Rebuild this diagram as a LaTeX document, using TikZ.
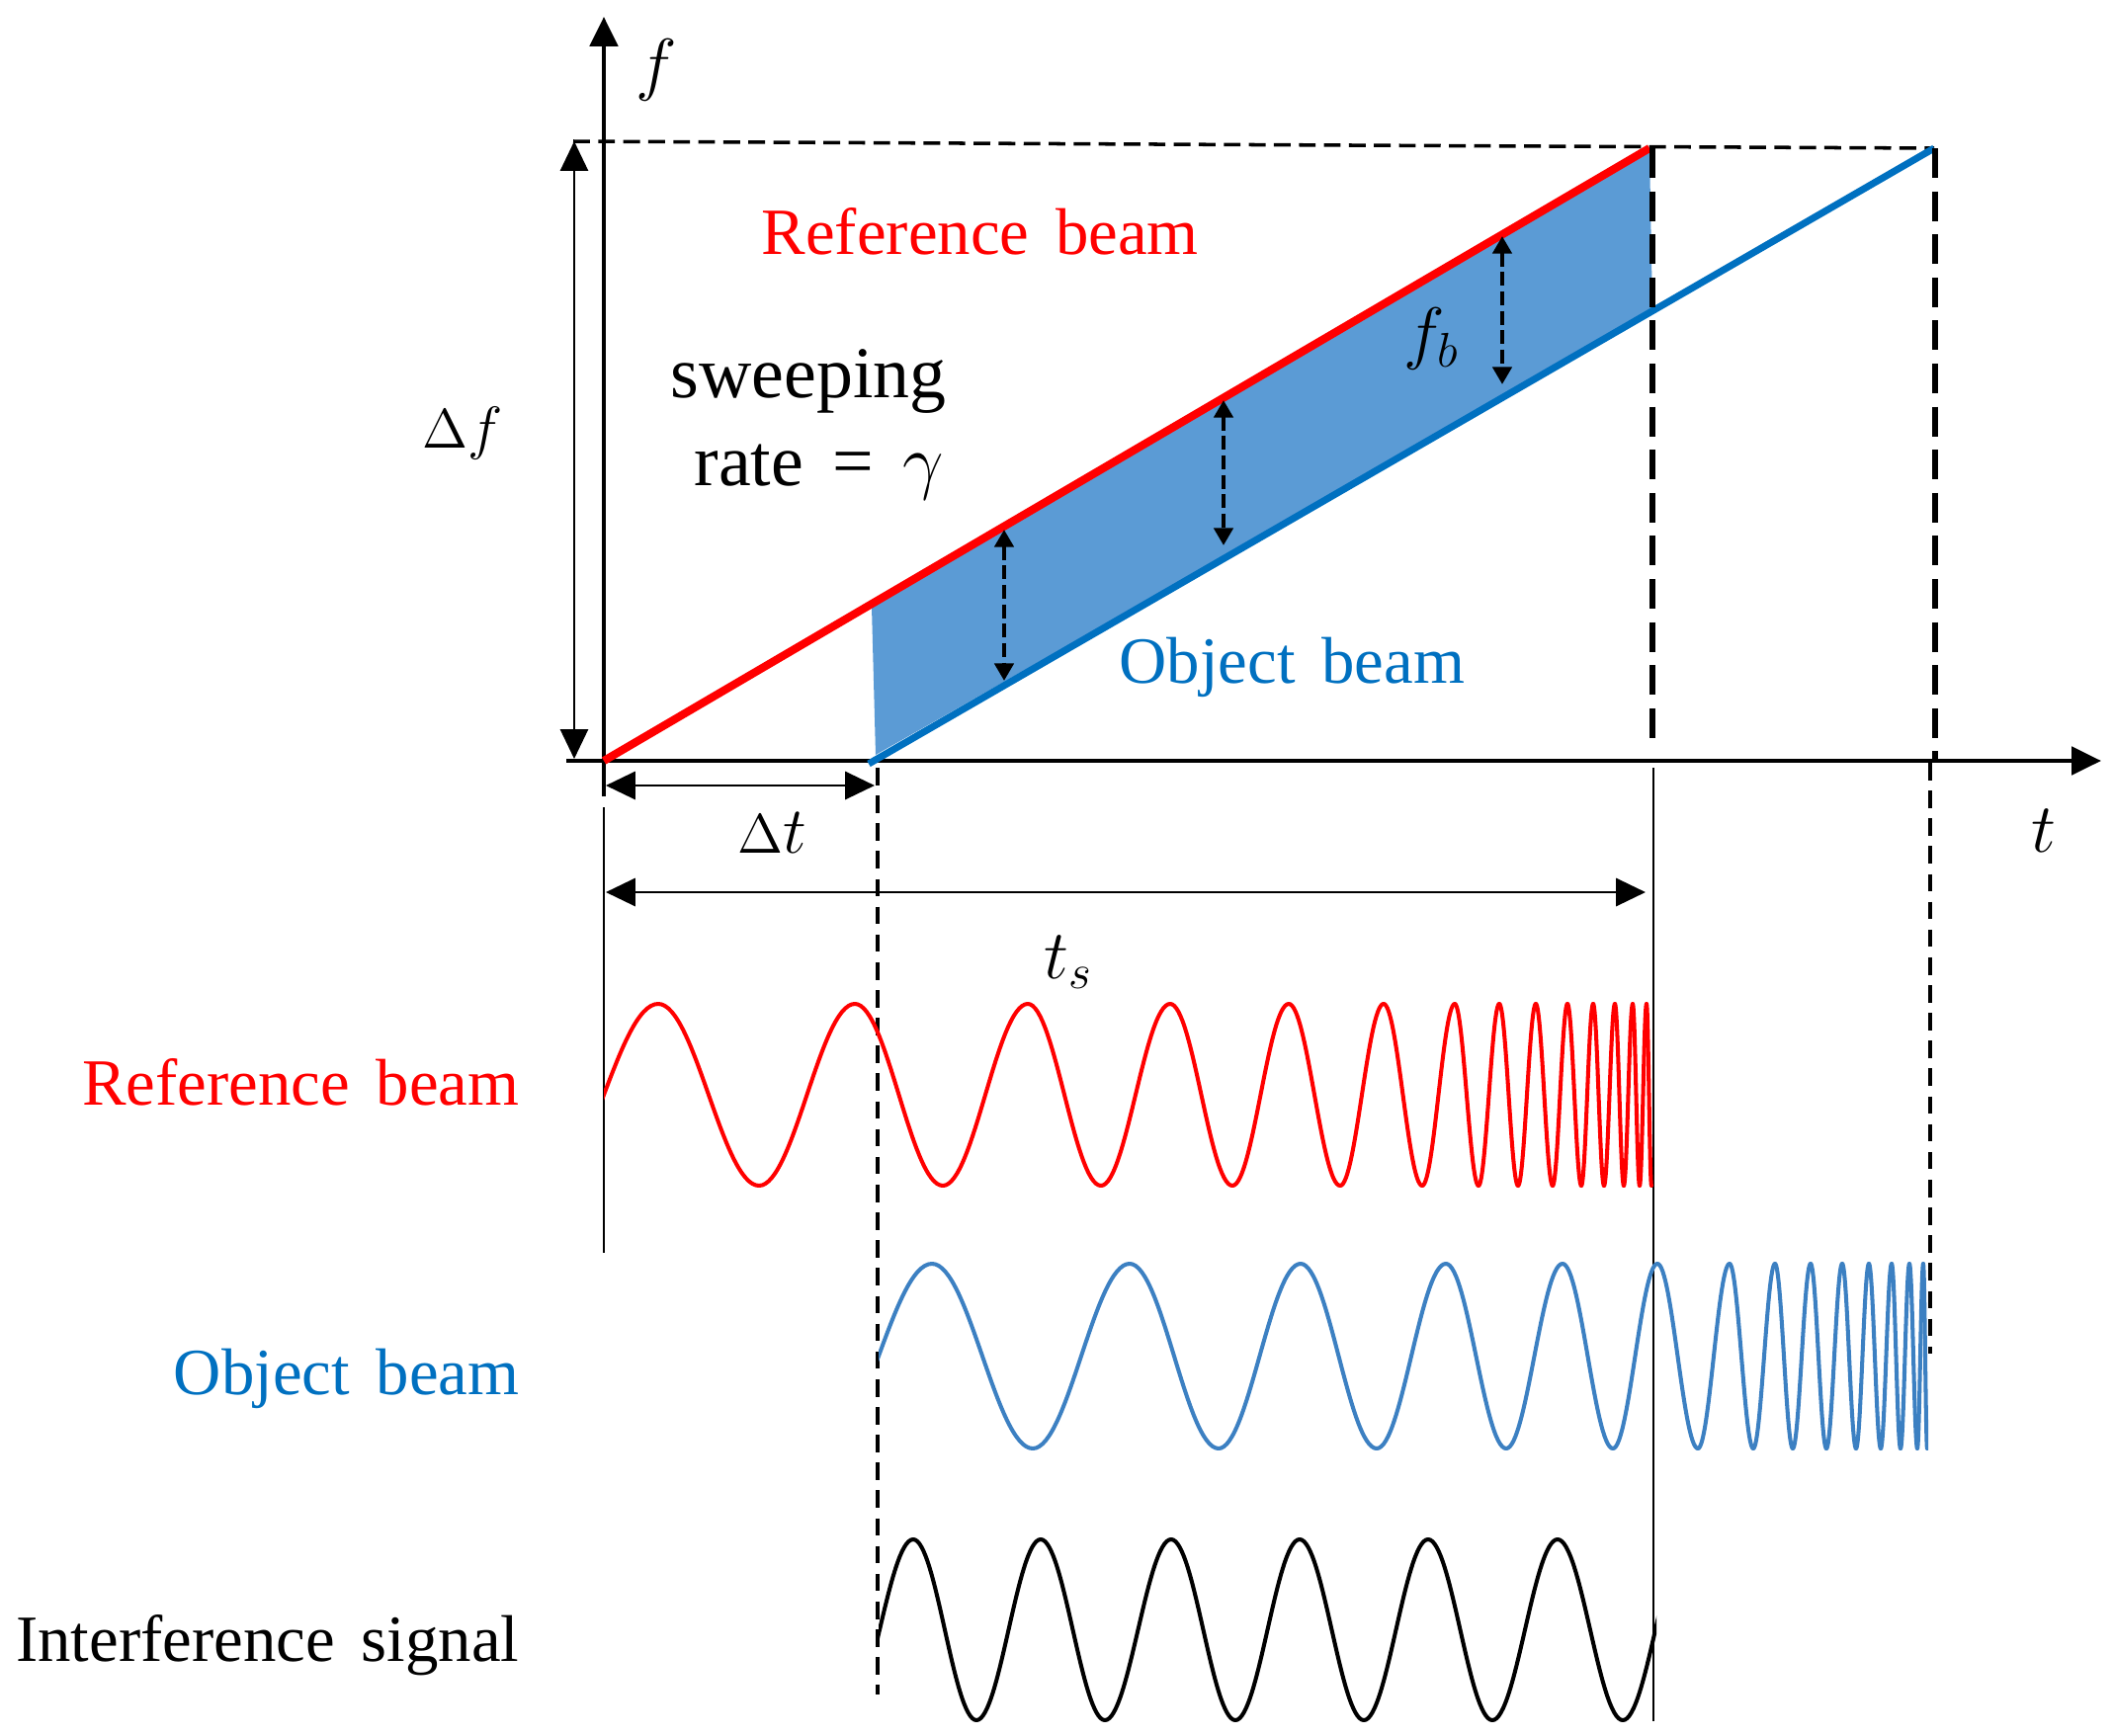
\documentclass[tikz,border=0pt]{standalone}
\usepackage{fix-cm}
\usepackage{fontspec}
\setmainfont[WordSpace=1.6]{Liberation Serif}
\usetikzlibrary{arrows.meta}
\definecolor{objblue}{HTML}{0070C0}
\definecolor{bandblue}{HTML}{5B9BD5}
\definecolor{wavblue}{HTML}{3C80C2}
\tikzset{
    >={Triangle[length=8.5pt,width=8pt]},
    tiny tip/.tip={Triangle[length=5pt,width=5.4pt]},
    axisline/.style={line width=1.3pt},
    guide/.style={line width=0.6pt},
    longdash/.style={line width=1.7pt, dash pattern=on 8.5pt off 3.9pt},
    middash/.style={line width=0.9pt, dash pattern=on 5pt off 3pt},
    topdash/.style={line width=1pt, dash pattern=on 4.8pt off 2.4pt},
    beatarrow/.style={line width=1.4pt, dash pattern=on 4pt off 1.6pt, tiny tip-tiny tip},
    sweepline/.style={line width=2.3pt},
    wavline/.style={line width=1.15pt, line cap=round},
    beamtext/.style={font=\fontsize{19}{24}\selectfont, inner sep=0pt},
    ratetext/.style={font=\fontsize{21}{26}\selectfont, inner sep=0pt},
    symtext/.style={font=\fontsize{20}{24}\selectfont, inner sep=0pt}
}
\newcommand{\deltasym}[2]{{\fontsize{16}{20}\selectfont$\Delta$}{\fontsize{#2}{24}\selectfont$#1$}}
% half periods between the given extrema, first one a trough
\newcommand{\sweepwave}[6]{
    \begin{scope}
        \clip (#2,#4-10) rectangle (#3,#5+10);
        \foreach \xb [count=\n, remember=\xb as \xa] in {#6} {
            \ifnum\n>1
                \ifodd\n \def\ya{#4}\def\yb{#5}\else \def\ya{#5}\def\yb{#4}\fi
                \pgfmathsetmacro{\dx}{0.3642*(\xb-\xa)}
                \draw [wavline, #1] (\xa,\ya) .. controls (\xa+\dx,\ya) and (\xb-\dx,\yb) .. (\xb,\yb);
            \fi
        }
    \end{scope}
}
\begin{document}
\begin{tikzpicture}[x=0.01cm, y=-0.01cm]
    \useasboundingbox (0,0) rectangle (2138,1757);
    \coordinate (origin) at (611,770);
    \coordinate (refend) at (1669,150);
    \coordinate (objstart) at (879,773);
    \coordinate (objend) at (1957,150);
    % shaded band
    \fill [bandblue] (882,614) -- (refend) -- (1672,316) -- (886,764) -- cycle;
    % axes
    \draw [axisline, ->] (611,806) -- (611,17);
    \draw [axisline, ->] (573,770) -- (2126,770);
    \draw [topdash] (580,143) -- (objend);
    % sweeps
    \draw [sweepline, objblue, line width=2pt] (objstart) -- (objend);
    \draw [sweepline, red] (origin) -- (refend);
    % guides
    \draw [longdash] (1672,150) -- (1672,747);
    \draw [longdash] (1958,150) -- (1958,770);
    \draw [middash] (1953,772) -- (1953,1370);
    \draw [middash] (888,777) -- (888,1715);
    \draw [guide] (611,817) -- (611,1268);
    \draw [guide] (1673,777) -- (1673,1742);
    % beat arrows
    \draw [beatarrow] (1016,536) -- (1016,689);
    \draw [beatarrow] (1238,405) -- (1238,552);
    \draw [beatarrow] (1520,239) -- (1520,389);
    % spans
    \draw [guide, <->] (581,143) -- (581,768);
    \draw [guide, line width=0.8pt, <->] (613,795) -- (885,795);
    \draw [guide, line width=0.8pt, <->] (613,903) -- (1665,903);
    % waves
    \sweepwave{red}{611}{1673}{1016}{1200}{556,666,768,865,954,1040,1114,1184,1247,1304,1356,1400,1439,1472,1496,1517,1536,1554,1571,1586,1600,1612,1623,1634,1643,1652,1659,1666,1671}
    \sweepwave{wavblue}{889}{1951}{1279}{1466}{835,943,1045,1143,1233,1316,1393,1463,1524,1581,1632,1677,1718,1750,1774,1796,1814,1832,1848,1864,1878,1891,1903,1914,1923,1932,1940,1946,1950}
    \sweepwave{black}{889}{1676}{1558}{1741}{856,924,988,1053,1118,1185,1250,1315,1380,1445,1510,1576,1642,1708}
    % labels
    \node [beamtext, red, anchor=base west] (reflabel) at (770,257) {Reference beam};
    \node [beamtext, objblue, anchor=base west] (objlabel) at (1132,691) {Object beam};
    \node [beamtext, red, anchor=base east] (refwave) at (526,1118) {Reference beam};
    \node [beamtext, objblue, anchor=base east] (objwave) at (526,1411) {Object beam};
    \node [beamtext, anchor=base east] (sigwave) at (526,1681) {Interference signal};
    \node [ratetext, anchor=base] (sweeplabel) at (818,402) {sweeping};
    \node [ratetext, anchor=base] (ratelabel) at (829,491) {rate = $\gamma$};
    \node [symtext] (flabel) at (664,71) {$f$};
    \node [symtext] (tlabel) at (2068,841) {$t$};
    \node [symtext] (dflabel) at (468,439) {\deltasym{f}{17}};
    \node [symtext] (dtlabel) at (781,843) {\deltasym{t}{19}};
    \node [symtext] (tslabel) at (1081,974) {$t_s$};
    \node [symtext] (fblabel) at (1449,343) {$f_b$};
\end{tikzpicture}
\end{document}
